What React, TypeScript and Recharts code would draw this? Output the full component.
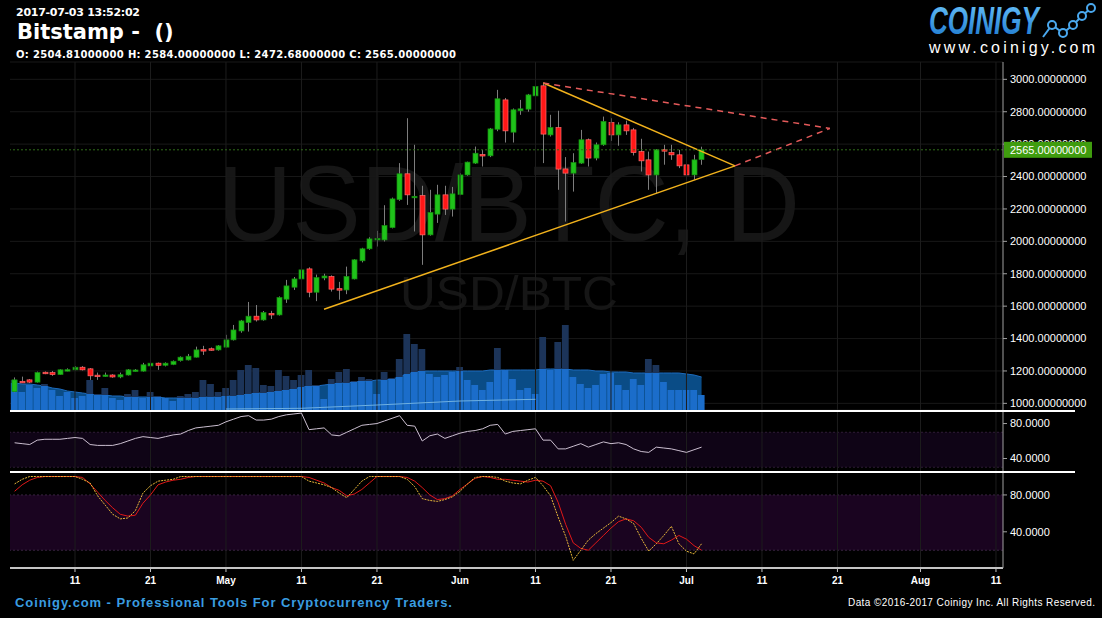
import React from "react";
import {
  ComposedChart,
  Bar,
  Line,
  Area,
  XAxis,
  YAxis,
  CartesianGrid,
  ReferenceLine,
  ReferenceArea,
} from "recharts";

const W = 1102;
// x values are days counted from 2017-04-01
const X_DOMAIN: [number, number] = [1.39, 132.93];
const PRICE_DOMAIN: [number, number] = [959, 3107];
const FIRST_DAY = 2; // first candle is 2017-04-03

const TICK_DAYS = [10, 20, 30, 40, 50, 61, 71, 81, 91, 101, 111, 122, 132];
const TICK_LABELS = ["11", "21", "May", "11", "21", "Jun", "11", "21", "Jul", "11", "21", "Aug", "11"];
const PRICE_TICKS = [1000, 1200, 1400, 1600, 1800, 2000, 2200, 2400, 2600, 2800, 3000];

const OPEN = [
  1073, 1136, 1145, 1131, 1192, 1190, 1178, 1206, 1207, 1223,
  1213, 1174, 1171, 1175, 1163, 1175, 1199, 1199, 1231, 1248,
  1235, 1240, 1264, 1268, 1285, 1332, 1337, 1330, 1347, 1392,
  1447, 1499, 1538, 1515, 1555, 1546, 1643, 1717, 1768, 1830,
  1686, 1774, 1783, 1708, 1700, 1768, 1880, 1954, 2012, 2009,
  2085, 2258, 2417, 2272, 2283, 2040, 2168, 2287, 2199, 2289,
  2410, 2483, 2536, 2528, 2692, 2873, 2674, 2806, 2816, 2898,
  2960, 2657, 2702, 2447, 2421, 2483, 2627, 2514, 2596, 2733,
  2657, 2719, 2688, 2554, 2503, 2410, 2566, 2548, 2534, 2472,
  2410, 2504.81,
];
const HIGH = [
  1160, 1165, 1150, 1196, 1197, 1200, 1210, 1216, 1230, 1230,
  1218, 1190, 1190, 1180, 1190, 1212, 1212, 1250, 1255, 1252,
  1253, 1265, 1290, 1305, 1350, 1355, 1345, 1360, 1423, 1484,
  1515, 1626, 1607, 1570, 1571, 1660, 1762, 1780, 1896, 1840,
  1795, 1800, 1790, 1750, 1844, 1890, 1960, 2025, 2065, 2223,
  2270, 2483, 2760, 2596, 2343, 2318, 2349, 2343, 2336, 2420,
  2492, 2585, 2565, 2700, 2935, 2885, 2820, 2873, 2910, 2978,
  2980, 2781, 2806, 2520, 2544, 2688, 2635, 2610, 2770, 2760,
  2735, 2745, 2700, 2633, 2554, 2570, 2596, 2596, 2565, 2520,
  2534, 2584,
];
const LOW = [
  1068, 1125, 1125, 1128, 1180, 1170, 1176, 1198, 1204, 1203,
  1145, 1145, 1163, 1158, 1155, 1172, 1196, 1196, 1226, 1207,
  1228, 1236, 1258, 1265, 1283, 1299, 1325, 1325, 1345, 1388,
  1436, 1443, 1505, 1510, 1521, 1542, 1620, 1700, 1760, 1655,
  1631, 1760, 1690, 1640, 1674, 1765, 1870, 1948, 1968, 1999,
  2080, 2250, 2225, 2061, 1855, 2035, 2114, 2163, 2153, 2285,
  2405, 2478, 2462, 2520, 2680, 2610, 2610, 2781, 2800, 2890,
  2483, 2647, 2318, 2122, 2307, 2478, 2462, 2500, 2590, 2620,
  2590, 2657, 2530, 2431, 2318, 2297, 2473, 2503, 2452, 2380,
  2380, 2472.68,
];
const CLOSE = [
  1145, 1133, 1131, 1190, 1186, 1178, 1207, 1208, 1223, 1207,
  1170, 1170, 1175, 1163, 1177, 1207, 1206, 1238, 1248, 1235,
  1248, 1260, 1285, 1291, 1330, 1329, 1330, 1355, 1392, 1453,
  1509, 1538, 1515, 1560, 1550, 1653, 1725, 1768, 1824, 1686,
  1776, 1786, 1705, 1703, 1783, 1886, 1954, 2015, 2018, 2097,
  2262, 2417, 2287, 2278, 2040, 2178, 2287, 2199, 2293, 2410,
  2489, 2544, 2529, 2694, 2880, 2682, 2812, 2818, 2904, 2956,
  2662, 2702, 2446, 2421, 2486, 2627, 2514, 2596, 2740, 2657,
  2719, 2682, 2548, 2497, 2410, 2565, 2563, 2534, 2466, 2410,
  2503, 2565,
];
// volume, hundreds of BTC
const VOLUME = [
  30, 18, 25, 22, 26, 20, 14, 18, 12, 14,
  30, 16, 22, 12, 10, 16, 20, 12, 18, 14,
  12, 9, 14, 16, 18, 30, 26, 18, 22, 30,
  40, 45, 42, 25, 24, 40, 34, 30, 35, 40,
  25, 11, 31, 38, 41, 29, 33, 31, 16, 38,
  32, 51, 76, 66, 61, 36, 33, 35, 38, 43,
  30, 25, 20, 28, 62, 40, 31, 20, 22, 16,
  73, 40, 68, 85, 33, 26, 22, 25, 36, 37,
  25, 20, 31, 25, 51, 45, 28, 20, 20, 20,
  20, 15,
];
const VOLUME_MA = [
  27, 26, 26, 25, 24, 22, 21, 19, 18, 17,
  16, 15, 15, 14, 14, 13, 13, 13, 13, 13,
  12, 12, 12, 12, 12, 13, 13, 13, 14, 14,
  15, 16, 17, 17, 18, 19, 20, 21, 23, 24,
  24, 25, 26, 27, 27, 28, 29, 29, 30, 30,
  31, 33, 36, 38, 39, 39, 39, 39, 39, 39,
  39, 39, 39, 40, 40, 40, 40, 40, 40, 40,
  41, 41, 41, 41, 40, 40, 40, 39, 39, 38,
  38, 38, 37, 37, 37, 37, 37, 37, 37, 36,
  35, 33,
];
const VOLUME_MA_LONG: [number, number][] = [[30, 1], [40, 1.7], [50, 5], [61, 9], [71, 10.7]];
const RSI = [
  58, 57, 56, 61, 62, 62, 62, 63, 64, 63,
  56, 55, 55, 55, 57, 60, 63, 65, 64, 63,
  65, 67, 68, 72, 75, 76, 77, 78, 82, 85,
  88, 89, 84, 84, 85, 88, 90, 91, 92, 73,
  74, 75, 67, 66, 70, 74, 78, 79, 80, 83,
  86, 89, 78, 77, 60, 66, 68, 63, 66, 69,
  71, 72, 74, 78, 79, 68, 71, 72, 73, 74,
  61, 61, 51, 51, 54, 57, 53, 56, 59, 57,
  58, 56, 51, 48, 47, 53, 52, 51, 49, 47,
  50, 53,
];
const STOCH_K = [
  92, 97, 100, 100, 100, 100, 100, 100, 100, 97,
  93, 79, 69, 59, 54, 55, 63, 82, 90, 95,
  96, 97, 100, 100, 100, 100, 100, 100, 100, 100,
  100, 100, 100, 100, 100, 100, 100, 100, 100, 95,
  93, 91, 88, 82, 77, 86, 95, 100, 100, 100,
  100, 100, 97, 89, 76, 74, 73, 75, 78, 84,
  92, 99, 100, 100, 99, 95, 93, 92, 96, 99,
  90, 79, 56, 35, 9, 20, 31, 38, 44, 50,
  57, 54, 49, 33, 19, 27, 36, 46, 27, 19,
  16, 27,
];
const STOCH_D = [
  84, 91, 96, 99, 100, 100, 100, 100, 100, 99,
  92, 83, 74, 66, 59, 57, 58, 71, 80, 91,
  94, 96, 97, 99, 100, 100, 100, 100, 100, 100,
  100, 100, 100, 100, 100, 100, 100, 100, 100, 99,
  96, 93, 88, 85, 79, 81, 86, 93, 100, 100,
  100, 100, 99, 95, 88, 80, 75, 76, 79, 86,
  92, 98, 100, 99, 97, 97, 96, 95, 94, 96,
  95, 90, 72, 48, 28, 22, 20, 28, 36, 44,
  51, 54, 52, 45, 34, 28, 27, 31, 36, 32,
  25, 20,
];

// triangle drawn on the chart
const TRI_LOW = { day: 42.99, price: 1581 };
const TRI_TOP = { day: 72.04, price: 2977 };
const TRI_APEX = { day: 97.43, price: 2466 };
const TRI_PROJ = { day: 110.0, price: 2697 };

const LAST_CLOSE = CLOSE[CLOSE.length - 1];

const rows = OPEN.map((open, i) => {
  const day = FIRST_DAY + i;
  const long = VOLUME_MA_LONG.find((p) => p[0] === day);
  return {
    day,
    open,
    high: HIGH[i],
    low: LOW[i],
    close: CLOSE[i],
    range: [LOW[i], HIGH[i]],
    volMa: VOLUME_MA[i],
    volIn: Math.min(VOLUME[i], VOLUME_MA[i]),
    volOver: Math.max(VOLUME[i] - VOLUME_MA[i], 0),
    volLong: long ? long[1] : null,
    rsi: RSI[i],
    k: STOCH_K[i],
    d: STOCH_D[i],
  };
});

const AXIS_FONT = "Liberation Sans";
const tickStyle = { fill: "#fff", fontSize: 11, fontFamily: AXIS_FONT };

function Candle(props: any) {
  const { x, y, width, height, payload } = props;
  if (!payload || height == null) return null;
  const top0 = Math.min(y, y + height);
  const h = Math.abs(height);
  const { open, close, high, low } = payload;
  const k = h / (high - low);
  const yOf = (v: number) => top0 + (high - v) * k;
  const up = close >= open;
  const cx = Math.round(x + width / 2) + 0.5;
  const bTop = yOf(Math.max(open, close));
  const bBot = yOf(Math.min(open, close));
  return (
    <g>
      <line x1={cx} x2={cx} y1={top0} y2={top0 + h} stroke="#7d7d7d" strokeWidth={1} />
      <rect
        x={cx - 2.5}
        y={bTop}
        width={5}
        height={Math.max(bBot - bTop, 1.5)}
        fill={up ? "#1fc21a" : "#ff1717"}
        stroke={up ? "#15900f" : "#ff6b6b"}
        strokeWidth={0.7}
      />
    </g>
  );
}

function PriceTag(props: any) {
  const vb = props.viewBox;
  if (!vb) return null;
  const x = vb.x + vb.width + 1;
  const y = vb.y;
  return (
    <g>
      <rect x={x} y={y - 8} width={88} height={16} fill="#3f9c0e" />
      <text x={x + 6} y={y + 4} fill="#fff" fontSize={11} fontFamily={AXIS_FONT}>
        {LAST_CLOSE.toFixed(8)}
      </text>
    </g>
  );
}

function MainPanel() {
  return (
    <ComposedChart width={W} height={410} data={rows} margin={{ top: 62, right: 0, bottom: 0, left: 10 }}>
      <XAxis xAxisId="c" dataKey="day" type="number" domain={X_DOMAIN} allowDataOverflow hide />
      <XAxis xAxisId="v" dataKey="day" type="number" domain={X_DOMAIN} allowDataOverflow hide />
      <YAxis
        yAxisId="p"
        orientation="right"
        domain={PRICE_DOMAIN}
        allowDataOverflow
        ticks={PRICE_TICKS}
        interval={0}
        tickFormatter={(v: number) => v.toFixed(8)}
        width={99}
        tickSize={4}
        tickMargin={3}
        axisLine={{ stroke: "#a0a0a0" }}
        tickLine={{ stroke: "#a0a0a0" }}
        tick={tickStyle}
      />
      <YAxis yAxisId="v" domain={[0, 348]} allowDataOverflow hide />
      <CartesianGrid xAxisId="c" yAxisId="p" vertical={false} stroke="#181818" />
      {TICK_DAYS.map((d) => (
        <ReferenceLine key={d} xAxisId="c" yAxisId="p" x={d} stroke="#1d1d1d" />
      ))}
      <Area
        xAxisId="v"
        yAxisId="v"
        dataKey="volMa"
        type="linear"
        fill="#0a4c86"
        fillOpacity={1}
        stroke="#1d6bbd"
        strokeWidth={1}
        dot={false}
        activeDot={false}
        isAnimationActive={false}
      />
      <Bar xAxisId="v" yAxisId="v" dataKey="volIn" stackId="vol" fill="#1b6dca" barSize={8} isAnimationActive={false} />
      <Bar xAxisId="v" yAxisId="v" dataKey="volOver" stackId="vol" fill="#1c3459" barSize={8} isAnimationActive={false} />
      <Line
        xAxisId="v"
        yAxisId="v"
        dataKey="volLong"
        stroke="#6fb0e0"
        strokeWidth={1}
        dot={false}
        activeDot={false}
        connectNulls
        isAnimationActive={false}
      />
      <ReferenceLine
        xAxisId="c"
        yAxisId="p"
        segment={[{ x: TRI_LOW.day, y: TRI_LOW.price }, { x: TRI_APEX.day, y: TRI_APEX.price }]}
        stroke="#f2b21c"
        strokeWidth={1.5}
      />
      <ReferenceLine
        xAxisId="c"
        yAxisId="p"
        segment={[{ x: TRI_TOP.day, y: TRI_TOP.price }, { x: TRI_APEX.day, y: TRI_APEX.price }]}
        stroke="#f2b21c"
        strokeWidth={1.5}
      />
      <ReferenceLine
        xAxisId="c"
        yAxisId="p"
        segment={[{ x: TRI_TOP.day, y: TRI_TOP.price }, { x: TRI_PROJ.day, y: TRI_PROJ.price }]}
        stroke="#e55a5a"
        strokeWidth={1.5}
        strokeDasharray="6 5"
      />
      <ReferenceLine
        xAxisId="c"
        yAxisId="p"
        segment={[{ x: TRI_APEX.day, y: TRI_APEX.price }, { x: TRI_PROJ.day, y: TRI_PROJ.price }]}
        stroke="#e55a5a"
        strokeWidth={1.5}
        strokeDasharray="6 5"
      />
      <Bar
        xAxisId="c"
        yAxisId="p"
        dataKey="range"
        barSize={7}
        shape={(p: any) => <Candle {...p} />}
        isAnimationActive={false}
      />
      <ReferenceLine xAxisId="c" yAxisId="p" y={LAST_CLOSE} stroke="#2f6b1a" strokeDasharray="2 2" />
    </ComposedChart>
  );
}

// last-price tag, on its own layer so it sits above the axis labels
function TagLayer() {
  return (
    <ComposedChart width={W} height={410} data={rows} margin={{ top: 62, right: 99, bottom: 0, left: 10 }}>
      <XAxis dataKey="day" type="number" domain={X_DOMAIN} allowDataOverflow hide />
      <YAxis domain={PRICE_DOMAIN} allowDataOverflow hide />
      <ReferenceLine y={LAST_CLOSE} stroke="none" label={<PriceTag />} />
    </ComposedChart>
  );
}

function RsiPanel() {
  return (
    <ComposedChart width={W} height={61} data={rows} margin={{ top: 0, right: 0, bottom: 0, left: 10 }}>
      <XAxis dataKey="day" type="number" domain={X_DOMAIN} allowDataOverflow hide />
      <YAxis
        orientation="right"
        domain={[25.7, 95.5]}
        allowDataOverflow
        ticks={[40, 80]}
        interval={0}
        tickFormatter={(v: number) => v.toFixed(4)}
        width={99}
        tickSize={4}
        tickMargin={3}
        axisLine={{ stroke: "#a0a0a0" }}
        tickLine={{ stroke: "#a0a0a0" }}
        tick={tickStyle}
      />
      <ReferenceArea y1={30} y2={70} fill="#0f0416" fillOpacity={1} stroke="none" />
      <ReferenceLine y={70} stroke="#2e1c36" strokeDasharray="2 2" />
      <ReferenceLine y={30} stroke="#2e1c36" strokeDasharray="2 2" />
      {TICK_DAYS.map((d) => (
        <ReferenceLine key={d} x={d} stroke="#1d1d1d" />
      ))}
      <Line dataKey="rsi" stroke="#cbbfd0" strokeWidth={1} dot={false} activeDot={false} isAnimationActive={false} />
    </ComposedChart>
  );
}

function StochPanel() {
  return (
    <ComposedChart width={W} height={119} data={rows} margin={{ top: 0, right: 0, bottom: 0, left: 10 }}>
      <XAxis
        dataKey="day"
        type="number"
        domain={X_DOMAIN}
        allowDataOverflow
        ticks={TICK_DAYS}
        interval={0}
        tickFormatter={(v: number) => TICK_LABELS[TICK_DAYS.indexOf(v)]}
        height={22}
        tickSize={4}
        tickMargin={5}
        axisLine={{ stroke: "#c4c4c4", strokeWidth: 2 }}
        tickLine={{ stroke: "#c4c4c4" }}
        tick={{ fill: "#fff", fontSize: 10, fontWeight: "bold", fontFamily: AXIS_FONT }}
      />
      <YAxis
        orientation="right"
        domain={[0.7, 106]}
        allowDataOverflow
        ticks={[40, 80]}
        interval={0}
        tickFormatter={(v: number) => v.toFixed(4)}
        width={99}
        tickSize={4}
        tickMargin={3}
        axisLine={{ stroke: "#a0a0a0" }}
        tickLine={{ stroke: "#a0a0a0" }}
        tick={tickStyle}
      />
      <ReferenceArea y1={20} y2={80} fill="#1a0420" fillOpacity={1} stroke="none" />
      <ReferenceLine y={80} stroke="#3a2440" strokeDasharray="2 2" />
      <ReferenceLine y={20} stroke="#3a2440" strokeDasharray="2 2" />
      {TICK_DAYS.map((d) => (
        <ReferenceLine key={d} x={d} stroke="#1d1d1d" />
      ))}
      <Line dataKey="d" stroke="#e01818" strokeWidth={1} dot={false} activeDot={false} isAnimationActive={false} />
      <Line dataKey="k" stroke="#e8b83a" strokeWidth={1} strokeDasharray="2 1" dot={false} activeDot={false} isAnimationActive={false} />
    </ComposedChart>
  );
}

export default function App() {
  return (
    <div style={{ position: "absolute", left: 0, top: 0, width: W, height: 618, background: "#000", overflow: "hidden" }}>
      <svg width={W} height={618} style={{ position: "absolute", left: 0, top: 0 }}>
        <text x={218} y={241} fontSize={107} fontFamily={AXIS_FONT} fill="#161616" textLength={582} lengthAdjust="spacingAndGlyphs">
          USD/BTC, D
        </text>
        <text x={400} y={310} fontSize={49} fontFamily={AXIS_FONT} fill="#161616" textLength={218} lengthAdjust="spacingAndGlyphs">
          USD/BTC
        </text>
      </svg>
      <div style={{ position: "absolute", left: 0, top: 0 }}>
        <MainPanel />
      </div>
      <div style={{ position: "absolute", left: 0, top: 0 }}>
        <TagLayer />
      </div>
      <div style={{ position: "absolute", left: 0, top: 410 }}>
        <RsiPanel />
      </div>
      <div style={{ position: "absolute", left: 0, top: 471 }}>
        <StochPanel />
      </div>
      <div style={{ position: "absolute", left: 10, top: 410, width: 1065, height: 1.5, background: "#fff" }} />
      <div style={{ position: "absolute", left: 10, top: 471, width: 1065, height: 1.5, background: "#fff" }} />
      <svg width={W} height={618} style={{ position: "absolute", left: 0, top: 0, pointerEvents: "none" }}>
        <defs>
          <linearGradient id="logoFill" x1="0" y1="0" x2="0" y2="1">
            <stop offset="0" stopColor="#6cc6fb" />
            <stop offset="1" stopColor="#1874cc" />
          </linearGradient>
        </defs>
        <text x={16} y={16} fill="#fff" fontSize={11} fontWeight="bold" fontFamily="DejaVu Sans" textLength={124}>
          2017-07-03 13:52:02
        </text>
        <text x={17} y={39} fill="#fff" fontSize={21} fontWeight="bold" fontFamily="DejaVu Sans" style={{ whiteSpace: "pre" }}>
          {"Bitstamp -  ()"}
        </text>
        <text x={16} y={58} fill="#fff" fontSize={10} fontWeight="bold" fontFamily="DejaVu Sans" textLength={440}>
          O: 2504.81000000 H: 2584.00000000 L: 2472.68000000 C: 2565.00000000
        </text>
        <text
          x={929}
          y={34}
          fill="url(#logoFill)"
          fontSize={39}
          fontWeight="bold"
          fontStyle="italic"
          fontFamily={AXIS_FONT}
          textLength={110}
          lengthAdjust="spacingAndGlyphs"
        >
          COINIGY
        </text>
        <polyline
          points="1043,37 1052,25 1063,33 1073,25 1082,16 1091,8"
          fill="none"
          stroke="#4aa8ee"
          strokeWidth={2}
        />
        {[
          [1052, 25],
          [1063, 33],
          [1073, 25],
          [1082, 16],
          [1091, 8],
        ].map(([cx, cy]) => (
          <circle key={cx} cx={cx} cy={cy} r={4} fill="#000" stroke="#4aa8ee" strokeWidth={2} />
        ))}
        <text x={929} y={53} fill="#fff" fontSize={16} fontFamily={AXIS_FONT} textLength={166}>
          www.coinigy.com
        </text>
        <text x={15} y={607} fill="#3a9de0" fontSize={13} fontWeight="bold" fontFamily={AXIS_FONT} textLength={437}>
          Coinigy.com - Professional Tools For Cryptocurrency Traders.
        </text>
        <text x={848} y={606} fill="#fff" fontSize={10} fontFamily={AXIS_FONT} textLength={247}>
          Data ©2016-2017 Coinigy Inc. All Rights Reserved.
        </text>
      </svg>
    </div>
  );
}
